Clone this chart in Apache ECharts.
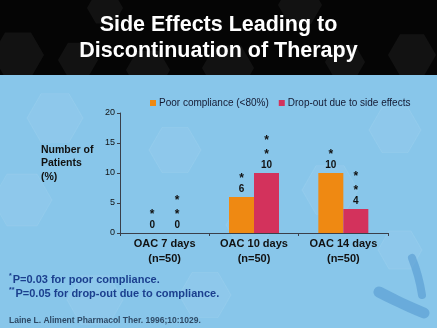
<!DOCTYPE html>
<html>
<head>
<meta charset="utf-8">
<script src="https://cdn.jsdelivr.net/npm/echarts@6/dist/echarts.min.js"></script>
<style>
  html, body { margin: 0; padding: 0; background: #88c6ea; }
  #chart { width: 437px; height: 328px; }
</style>
</head>
<body>
<div id="chart"></div>
<script>
// Study arms (x axis) and patient percentages per outcome
const categories = ['OAC 7 days\n(n=50)', 'OAC 10 days\n(n=50)', 'OAC 14 days\n(n=50)'];
const poorCompliance = [0, 6, 10];
const dropOut = [0, 10, 4];
// Significance marks printed above each bar value
const poorMarks = ['*', '*', '*'];
const dropMarks = ['**', '**', '**'];
const yTicks = { min: 0, max: 20, interval: 5 };

const seriesNames = ['Poor compliance (<80%)', 'Drop-out due to side effects'];
const colors = ['#ef8912', '#d3325c'];

const FONT = 'Liberation Sans, Arial, sans-serif';

// Stacked label: marks on their own lines above the value
function markedLabel(marks) {
  return function (p) {
    const m = marks[p.dataIndex].split('');
    const lines = m.map((_, i) => (i === m.length - 1 ? '{near|*}' : '{far|*}'));
    lines.push('{v|' + p.value + '}');
    return lines.join('\n');
  };
}
const labelRich = {
  far: { fontSize: 12, fontWeight: 'bold', color: '#111', lineHeight: 18, fontFamily: FONT },
  near: { fontSize: 12, fontWeight: 'bold', color: '#111', lineHeight: 10, fontFamily: FONT },
  v: { fontSize: 10, fontWeight: 'bold', color: '#111', lineHeight: 10, fontFamily: FONT }
};

// Background hexagon decoration
function hex(cx, cy, r, fill, stroke, z) {
  const pts = [];
  for (let i = 0; i < 6; i++) {
    const a = Math.PI / 3 * i;
    pts.push([cx + r * Math.cos(a), cy + r * Math.sin(a)]);
  }
  return { type: 'polygon', z: z, silent: true, shape: { points: pts }, style: { fill: fill, stroke: stroke || null, lineWidth: 1 } };
}
const darkHexes = [[18, 55, 26], [78, 60, 20], [148, 70, 22], [228, 68, 26], [300, 5, 22], [345, 62, 20], [412, 55, 24], [105, 8, 18]]
  .map(h => hex(h[0], h[1], h[2], 'rgba(70,70,70,0.22)', null, -9));
const lightHexes = [[55, 118, 28], [22, 200, 30], [95, 300, 28], [205, 295, 26], [330, 190, 28], [395, 130, 26], [250, 225, 24], [175, 150, 26], [400, 250, 22]]
  .map(h => hex(h[0], h[1], h[2], 'rgba(255,255,255,0.05)', 'rgba(255,255,255,0.07)', -7));

const chart = echarts.init(document.getElementById('chart'), null, { renderer: 'canvas' });

chart.setOption({
  backgroundColor: '#88c6ea',
  textStyle: { fontFamily: FONT },
  title: {
    text: 'Side Effects Leading to\nDiscontinuation of Therapy',
    left: 'center',
    top: 7,
    textStyle: { color: '#ffffff', fontSize: 21.5, fontWeight: 'bold', lineHeight: 26, fontFamily: FONT }
  },
  graphic: [
    { type: 'rect', z: -10, silent: true, shape: { x: 0, y: 0, width: 437, height: 75 }, style: { fill: '#050505' } },
    ...darkHexes,
    { type: 'rect', z: -8, silent: true, shape: { x: 0, y: 75, width: 437, height: 253 }, style: { fill: '#88c6ea' } },
    ...lightHexes,
    // bacterium shape, lower right
    { type: 'polyline', z: -6, silent: true, shape: { points: [[379, 292], [393, 299], [410, 307], [424, 313]], smooth: 0.5 },
      style: { stroke: 'rgba(80,150,205,0.55)', lineWidth: 11, lineCap: 'round' } },
    { type: 'polyline', z: -6, silent: true, shape: { points: [[412, 258], [418, 276], [422, 295]], smooth: 0.5 },
      style: { stroke: 'rgba(80,150,205,0.55)', lineWidth: 8, lineCap: 'round' } },
    {
      type: 'text', left: 41, top: 143,
      style: { text: 'Number of\nPatients\n(%)', font: 'bold 10.5px ' + FONT, fill: '#111111', lineHeight: 13.5 }
    },
    {
      type: 'text', left: 9, top: 273,
      style: {
        text: '{s|*}P=0.03 for poor compliance.\n{s|**}P=0.05 for drop-out due to compliance.',
        font: 'bold 11px ' + FONT, fill: '#1b3f8e', lineHeight: 14,
        rich: { s: { fontSize: 7, fontWeight: 'bold', fill: '#1b3f8e', verticalAlign: 'top', padding: [0, 1, 4, 0] } }
      }
    },
    {
      type: 'text', left: 9, top: 316,
      style: { text: 'Laine L. Aliment Pharmacol Ther. 1996;10:1029.', font: 'bold 8.5px ' + FONT, fill: '#2e4a66' }
    }
  ],
  legend: {
    data: seriesNames,
    left: 145, top: 93,
    icon: 'rect', itemWidth: 6, itemHeight: 6, itemGap: 10,
    textStyle: { fontSize: 10, color: '#141a33', fontFamily: FONT, padding: [0, 0, 0, -2] }
  },
  grid: { left: 120, right: 49, top: 113, bottom: 95 },
  xAxis: {
    type: 'category',
    data: categories,
    axisLine: { lineStyle: { color: '#3a3f4a', width: 1 } },
    axisTick: { show: true, length: 3, lineStyle: { color: '#3a3f4a' } },
    axisLabel: { color: '#111111', fontSize: 11, fontWeight: 'bold', lineHeight: 15, margin: 3, fontFamily: FONT }
  },
  yAxis: {
    type: 'value',
    min: yTicks.min, max: yTicks.max, interval: yTicks.interval,
    splitLine: { show: false },
    axisLine: { show: true, lineStyle: { color: '#3a3f4a', width: 1 } },
    axisTick: { show: true, length: 3, lineStyle: { color: '#3a3f4a' } },
    axisLabel: { color: '#111111', fontSize: 9, margin: 5, fontFamily: FONT }
  },
  series: [
    {
      name: seriesNames[0], type: 'bar', data: poorCompliance,
      barWidth: 25, barGap: '0%',
      itemStyle: { color: colors[0] },
      label: { show: true, position: 'top', distance: 3, formatter: markedLabel(poorMarks), rich: labelRich }
    },
    {
      name: seriesNames[1], type: 'bar', data: dropOut,
      barWidth: 25, barGap: '0%',
      itemStyle: { color: colors[1] },
      label: { show: true, position: 'top', distance: 3, formatter: markedLabel(dropMarks), rich: labelRich }
    }
  ]
});
</script>
</body>
</html>
